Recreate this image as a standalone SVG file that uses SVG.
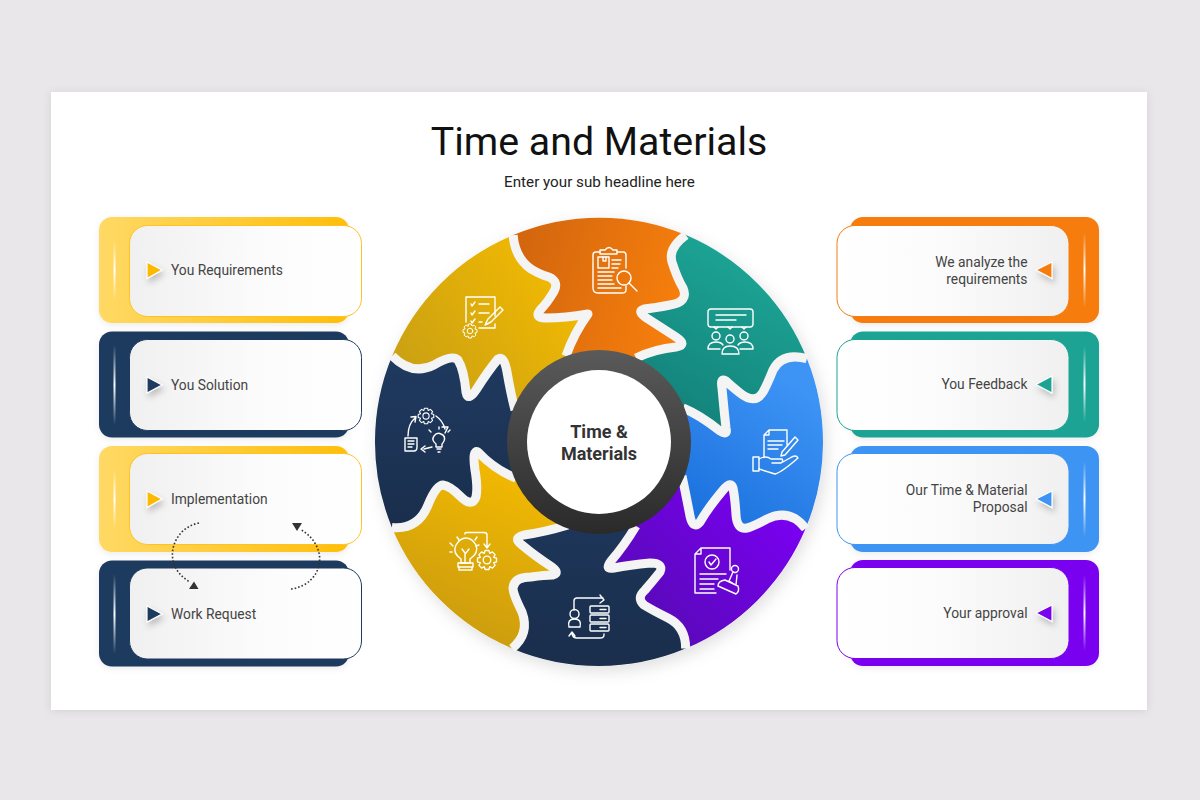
<svg xmlns="http://www.w3.org/2000/svg" width="1200" height="800" viewBox="0 0 1200 800">
<style>
.t{font-family:Roboto,"Liberation Sans",sans-serif;fill:#444;font-size:13.8px}
.r{text-anchor:end}
.sep{fill:none;stroke:#F4F4F4;stroke-width:9;stroke-linejoin:round}
.ic{fill:none;stroke:#fff;stroke-width:1.4;stroke-linecap:round;stroke-linejoin:round}
.ic *{vector-effect:non-scaling-stroke}
.front{stroke-width:1}
.tri{stroke:#fff;stroke-width:1.2;filter:url(#ts)}
.dot{fill:none;stroke:#333;stroke-width:1.6;stroke-dasharray:1.6 2}
</style>
<defs>
<filter id="cs" x="-5%" y="-5%" width="110%" height="110%"><feDropShadow dx="0" dy="1" stdDeviation="4" flood-color="#000" flood-opacity=".1"/></filter>
<filter id="ws" x="-10%" y="-10%" width="120%" height="120%"><feDropShadow dx="3" dy="5" stdDeviation="8" flood-color="#000" flood-opacity=".13"/></filter>
<filter id="bs" x="-10%" y="-15%" width="120%" height="130%"><feDropShadow dx="0" dy="2" stdDeviation="3" flood-color="#000" flood-opacity=".08"/></filter>
<filter id="ts" x="-80%" y="-80%" width="260%" height="260%"><feDropShadow dx="2" dy="4" stdDeviation="3" flood-color="#000" flood-opacity=".22"/></filter>
<filter id="hb" x="-300%" y="-10%" width="700%" height="120%"><feGaussianBlur stdDeviation="0.7"/></filter>
<linearGradient id="gO" x1="0" y1="0" x2="1" y2="0.35"><stop offset="0" stop-color="#D0640E"/><stop offset="1" stop-color="#F77F0C"/></linearGradient>
<linearGradient id="gT" x1="0.2" y1="1" x2="0.7" y2="0.1"><stop offset="0" stop-color="#117A75"/><stop offset="1" stop-color="#1CA494"/></linearGradient>
<linearGradient id="gB" x1="0.1" y1="0.9" x2="0.8" y2="0.1"><stop offset="0" stop-color="#1469D8"/><stop offset="1" stop-color="#3D94F5"/></linearGradient>
<linearGradient id="gP" x1="0" y1="1" x2="0.8" y2="0.2"><stop offset="0" stop-color="#4F0CA8"/><stop offset="1" stop-color="#7A00F2"/></linearGradient>
<linearGradient id="gN" x1="0" y1="0" x2="0" y2="1"><stop offset="0" stop-color="#1F3A60"/><stop offset="1" stop-color="#1A2E4C"/></linearGradient>
<linearGradient id="gY" x1="0" y1="1" x2="1" y2="0.25"><stop offset="0" stop-color="#C09A18"/><stop offset="1" stop-color="#F6BC00"/></linearGradient>
<linearGradient id="gY2" x1="0.3" y1="1" x2="0.7" y2="0.1"><stop offset="0" stop-color="#C89A10"/><stop offset="1" stop-color="#F6BC00"/></linearGradient>
<linearGradient id="gR" x1="0" y1="0" x2="0" y2="1"><stop offset="0" stop-color="#5A5A5A"/><stop offset="1" stop-color="#2A2A2A"/></linearGradient>
<linearGradient id="bY" x1="0" y1="0" x2="1" y2="0"><stop offset="0" stop-color="#FFD965"/><stop offset="1" stop-color="#FFBE0A"/></linearGradient>
<linearGradient id="fL" x1="0" y1="0" x2="1" y2="0"><stop offset="0" stop-color="#F0F0F0"/><stop offset=".6" stop-color="#FCFCFC"/><stop offset="1" stop-color="#FFF"/></linearGradient>
<linearGradient id="fR" x1="0" y1="0" x2="1" y2="0"><stop offset="0" stop-color="#FFF"/><stop offset=".4" stop-color="#FCFCFC"/><stop offset="1" stop-color="#F0F0F0"/></linearGradient>
<linearGradient id="hl" x1="0" y1="0" x2="0" y2="1"><stop offset="0" stop-color="#fff" stop-opacity="0"/><stop offset=".5" stop-color="#fff"/><stop offset="1" stop-color="#fff" stop-opacity="0"/></linearGradient>
<g id="gear"><polygon points="-2,-10 2,-10 2.9,-7 5.66,-8.49 8.49,-5.66 7,-2.9 10,-2 10,2 7,2.9 8.49,5.66 5.66,8.49 2.9,7 2,10 -2,10 -2.9,7 -5.66,8.49 -8.49,5.66 -7,2.9 -10,2 -10,-2 -7,-2.9 -8.49,-5.66 -5.66,-8.49 -2.9,-7"/><circle r="4"/></g>
</defs>
<rect width="1200" height="800" fill="#E9E7E9"/>
<rect x="51" y="92" width="1096" height="618" fill="#fff" filter="url(#cs)"/>
<text x="599" y="155" text-anchor="middle" style="font-family:Roboto,'Liberation Sans',sans-serif;font-size:39.3px;fill:#111">Time and Materials</text>
<text x="599.500" y="187" text-anchor="middle" style="font-family:Roboto,'Liberation Sans',sans-serif;font-size:15.2px;fill:#222">Enter your sub headline here</text>

<g id="card-left-1">
<rect x="99" y="217" width="250" height="106" rx="13" fill="url(#bY)" filter="url(#bs)"/>
<rect x="113.500" y="240" width="2" height="60" fill="url(#hl)" filter="url(#hb)"/>
<rect x="129.500" y="225.500" width="232" height="91" rx="18" fill="url(#fL)" stroke="#FFC21F" class="front"/>
<polygon points="147,262 162,270 147,278.500" fill="#FDB900" class="tri"/>
<text x="171" y="275" class="t">You Requirements</text>
</g>
<g id="card-left-2">
<rect x="99" y="331.500" width="250" height="106" rx="13" fill="#1F3A5F" filter="url(#bs)"/>
<rect x="113.500" y="345" width="2" height="80" fill="url(#hl)" filter="url(#hb)"/>
<rect x="129.500" y="339.500" width="232" height="91" rx="18" fill="url(#fL)" stroke="#1F3A5F" class="front"/>
<polygon points="147,377 162,385 147,393" fill="#1F3A5F" class="tri"/>
<text x="171" y="389.500" class="t">You Solution</text>
</g>
<g id="card-left-3">
<rect x="99" y="446" width="250" height="106" rx="13" fill="url(#bY)" filter="url(#bs)"/>
<rect x="113.500" y="469" width="2" height="60" fill="url(#hl)" filter="url(#hb)"/>
<rect x="129.500" y="453.500" width="232" height="91" rx="18" fill="url(#fL)" stroke="#FFC21F" class="front"/>
<polygon points="147,491 162,499 147,507.500" fill="#FDB900" class="tri"/>
<text x="171" y="504" class="t">Implementation</text>
</g>
<g id="card-left-4">
<rect x="99" y="560.500" width="250" height="106" rx="13" fill="#1F3A5F" filter="url(#bs)"/>
<rect x="113.500" y="574" width="2" height="80" fill="url(#hl)" filter="url(#hb)"/>
<rect x="129.500" y="568" width="232" height="91" rx="18" fill="url(#fL)" stroke="#1F3A5F" class="front"/>
<polygon points="147,606 162,614 147,622" fill="#1F3A5F" class="tri"/>
<text x="171" y="618.500" class="t">Work Request</text>
</g>

<g id="card-right-1">
<rect x="850" y="217" width="249" height="106" rx="13" fill="#F57C10" filter="url(#bs)"/>
<rect x="1083.500" y="232" width="2" height="76" fill="url(#hl)" filter="url(#hb)"/>
<rect x="837" y="225.500" width="232" height="91" rx="18" fill="url(#fR)" stroke="#F57C10" class="front"/>
<polygon points="1052,262 1036,270 1052,278.500" fill="#F57C10" class="tri"/>
<text x="1027.500" y="267" class="t r">We analyze the</text>
<text x="1027.500" y="284" class="t r">requirements</text>
</g>
<g id="card-right-2">
<rect x="850" y="331.500" width="249" height="106" rx="13" fill="#1BA394" filter="url(#bs)"/>
<rect x="1083.500" y="346" width="2" height="76" fill="url(#hl)" filter="url(#hb)"/>
<rect x="837" y="339.500" width="232" height="91" rx="18" fill="url(#fR)" stroke="#1BA394" class="front"/>
<polygon points="1052,376 1036,384.500 1052,393" fill="#1BA394" class="tri"/>
<text x="1027.500" y="389" class="t r">You Feedback</text>
</g>
<g id="card-right-3">
<rect x="850" y="446" width="249" height="106" rx="13" fill="#3E94F2" filter="url(#bs)"/>
<rect x="1083.500" y="461" width="2" height="76" fill="url(#hl)" filter="url(#hb)"/>
<rect x="837" y="453.500" width="232" height="91" rx="18" fill="url(#fR)" stroke="#3E94F2" class="front"/>
<polygon points="1052,491 1036,499 1052,507.500" fill="#3E94F2" class="tri"/>
<text x="1027.500" y="495" class="t r">Our Time &amp; Material</text>
<text x="1027.500" y="512" class="t r">Proposal</text>
</g>
<g id="card-right-4">
<rect x="850" y="560" width="249" height="106" rx="13" fill="#7A00F0" filter="url(#bs)"/>
<rect x="1083.500" y="575" width="2" height="76" fill="url(#hl)" filter="url(#hb)"/>
<rect x="837" y="567.500" width="232" height="91" rx="18" fill="url(#fR)" stroke="#7A00F0" class="front"/>
<polygon points="1052,605 1036,613 1052,621.500" fill="#7A00F0" class="tri"/>
<text x="1027.500" y="618" class="t r">Your approval</text>
</g>

<g id="connectors">
<path class="dot" d="M199 523C172 528 160 565 190 582"/>
<polygon points="189,589 198.500,589 194,581.500" fill="#333"/>
<path class="dot" d="M291 589C322 585 332 548 300 529"/>
<polygon points="292,523 302,523 297,531" fill="#333"/>
</g>

<circle cx="599" cy="442" r="224" fill="#fff" filter="url(#ws)"/>

<g id="seg-orange">
<path fill="url(#gO)" d="M513.100 235.100A224 224 0 0 1 685.900 235.100Q668 248 672 262Q677 278 683 288Q689 302 670 305Q655 308 644 309Q637 311 645 317Q662 328 676 337Q688 345 676 347Q655 349 636 358L599 442L566 356Q574 333 588 314Q565 318 546 318Q533 318 541 309Q547 303 553 293Q560 282 549 277Q541 275 531 269Q515 258 513.100 235.100Z"/>
<g class="ic"><path d="M600 252H596Q593 252 593 255V288Q593 293 598 293H622Q626 293 626 290V286M617 252H623Q626 252 626 255V268"/><path d="M600 254V250H605Q609 245 613 250H617V254Z"/><rect x="598" y="257" width="11" height="11"/><path d="M603 257V261H606V257M612 260H621M612 264H620M612 268H618M598 272H614M598 276H612M598 280H612M598 284H614M598 288H621"/><circle cx="624" cy="278" r="7"/><path d="M629 283L637 291"/></g>
</g>
<g id="seg-teal">
<path fill="url(#gT)" d="M685.900 235.100A224 224 0 0 1 806.900 358.600Q782 352 773 370Q767 385 763 392Q755 405 740 393Q730 385 726 381Q720 377 722 388Q724 410 726 428Q728 436 720 431Q700 415 683 408L599 442L636 358Q655 349 676 347Q688 345 676 337Q662 328 645 317Q637 311 644 309Q655 308 670 305Q689 302 683 288Q677 278 672 262Q668 248 685.900 235.100Z"/>
<g class="ic"><rect x="708" y="309" width="45" height="18" rx="3"/><path d="M716 315H746M716 320H736M714 327L716 329L718 327M728 327L730 329L732 327M742 327L744 329L746 327"/><circle cx="716" cy="336" r="4"/><circle cx="730" cy="339" r="4"/><circle cx="744" cy="336" r="4"/><path d="M708 349Q708 342 716 342Q721 342 723 345M738 345Q740 342 745 342Q753 342 753 349H740M708 349H720M722 354Q722 346 730 346Q739 346 739 354Z"/></g>
</g>
<g id="seg-blue">
<path fill="url(#gB)" d="M806.900 358.600A224 224 0 0 1 805.600 528.600Q790 508 767 519Q752 527 747 528Q737 530 736 515Q735 498 733 488Q731 481 724 489Q708 508 700 522Q693 530 690 516Q686 495 682 476L599 442L683 408Q700 415 720 431Q728 436 726 428Q724 410 722 388Q720 377 726 381Q730 385 740 393Q755 405 763 392Q767 385 773 370Q782 352 806.900 358.600Z"/>
<g class="ic"><path d="M764 457V435L769 430H787V445M769 430V435H764"/><path d="M768 441H784M768 445H782M768 449H778"/><path d="M782 452L795 437L798 440L785 455L781 456Z"/><rect x="753" y="457" width="6" height="14"/><path d="M759 459Q766 455 771 459H782Q784 462 780 463H772M759 469L775 474Q782 472 798 458Q796 454 790 458L781 463"/></g>
</g>
<g id="seg-purple">
<path fill="url(#gP)" d="M805.600 528.600A224 224 0 0 1 685.600 648.600Q686 627 668 618Q652 610 644 605Q636 598 645 590Q652 582 660 572Q664 563 650 563Q630 565 614 568Q604 570 611 561Q624 546 636 526L599 442L682 476Q686 495 690 516Q693 530 700 522Q708 508 724 489Q731 481 733 488Q735 498 736 515Q737 530 747 528Q752 527 767 519Q790 508 805.600 528.600Z"/>
<g class="ic"><path d="M716 593H695V554L701 548H730V570M701 548V554H695"/><circle cx="712" cy="562" r="7"/><path d="M709 562L711 565L716 559M700 574H726M700 579H718M700 584H714M700 589H714"/><circle cx="735" cy="569" r="3.500"/><path d="M733 572L729 581L736 585L737 575M718 586Q718 581 725 580L738 586Q740 591 736 594Z"/></g>
</g>
<g id="seg-navy-bottom">
<path fill="url(#gN)" d="M685.600 648.600A224 224 0 0 1 512 648.400Q530 634 522 612Q513 594 513 588Q514 577 531 577Q545 575 553 575Q560 573 552 567Q535 556 522 545Q512 538 524 535Q545 532 568 525L599 442L636 526Q624 546 611 561Q604 570 614 568Q630 565 650 563Q664 563 660 572Q652 582 645 590Q636 598 644 605Q652 610 668 618Q686 627 685.600 648.600Z"/>
<g class="ic"><path d="M574 610V601Q574 598 577 598H603M600 595L604 600L600 603"/><rect x="590" y="606" width="19" height="7" rx="1"/><rect x="590" y="615" width="19" height="7" rx="1"/><rect x="590" y="624" width="19" height="7" rx="1"/><path d="M600 609.500H606M600 618.500H606M600 627.500H606"/><circle cx="574.500" cy="614" r="4.500"/><path d="M569 627Q567 619 574.500 619Q582 619 580 627Z"/><path d="M604 634V635Q604 638 600 638H577Q573 638 572 634M569 636L572 632L575 636"/></g>
</g>
<g id="seg-yellow-lower">
<path fill="url(#gY2)" d="M512 648.400A224 224 0 0 1 391.900 527.400Q418 530 428 505Q436 485 443 485Q450 486 460 496Q472 508 476 497Q478 488 475 470Q472 449 478 452Q495 470 516 478L599 442L568 525Q545 532 524 535Q512 538 522 545Q535 556 552 567Q560 573 553 575Q545 575 531 577Q514 577 513 588Q513 594 522 612Q530 634 512 648.400Z"/>
<g class="ic"><path d="M461 563V559Q452 553 456 545Q460 538 466 538Q472 538 476 545Q479 553 470 559V563Z"/><path d="M462 549L465 553V563M469 549L466 553"/><path d="M458 563H473V567H458ZM459 567H472V570H459ZM462 570H469"/><path d="M450 543L453 546M457 537L459 540M477 537L475 540M452 552H450M479 545L476 546"/><path d="M465 534V533Q465 532.500 467 532.500H484Q487 532.500 487 535V546M484 544L487 548L490 544"/><use href="#gear" transform="translate(487 560) scale(.95)"/></g>
</g>
<g id="seg-navy-left">
<path fill="url(#gN)" d="M391.900 527.400A224 224 0 0 1 392.200 355.800Q412 376 434 365Q452 354 458 360Q464 370 466 392Q468 402 476 390Q488 371 498 359Q504 355 507 372Q511 395 515 410L599 442L516 478Q495 470 478 452Q472 449 475 470Q478 488 476 497Q472 508 460 496Q450 486 443 485Q436 485 428 505Q418 530 391.900 527.400Z"/>
<g class="ic"><use href="#gear" transform="translate(426 416) scale(.78)"/><path d="M408 436Q408 424 415 418M411 417L416 416.500L415 422"/><path d="M436 416Q443 421 445 429M442 427L448 427L445 433"/><path d="M405 438H417V447Q417 451 414 451H405ZM408 441H414M408 444H414M408 447H412"/><path d="M432 447L424 449M425 446L421 449L425 452"/><path d="M436 447V444Q431 440 434 436Q437 432 441 434Q446 436 444 441Q443 443 442 444V447ZM437 449H441M438 452H440M431 432L429 430M448 432L450 430M439 429V427"/></g>
</g>
<g id="seg-yellow-upper">
<path fill="url(#gY)" d="M392.200 355.800A224 224 0 0 1 513.100 235.100Q515 258 531 269Q541 275 549 277Q560 282 553 293Q547 303 541 309Q533 318 546 318Q565 318 588 314Q574 333 566 356L599 442L515 410Q511 395 507 372Q504 355 498 359Q488 371 476 390Q468 402 466 392Q464 370 458 360Q452 354 434 365Q412 376 392.200 355.800Z"/>
<g class="ic"><path d="M466 322V297H495V316M495 324V328H479"/><path d="M471 304L472 306L475 302M479 304H489M471 313L472 315L475 311M479 313H489M471 321L472 323L475 319M479 322H482"/><path d="M485 325L488 319L500 307L503 310L491 322Z"/><use href="#gear" transform="translate(470 331) scale(.7)"/></g>
</g>

<g id="separators">
<path class="sep" d="M513.100 235.100Q515 258 531 269Q541 275 549 277Q560 282 553 293Q547 303 541 309Q533 318 546 318Q565 318 588 314Q574 333 566 356"/>
<path class="sep" d="M685.900 235.100Q668 248 672 262Q677 278 683 288Q689 302 670 305Q655 308 644 309Q637 311 645 317Q662 328 676 337Q688 345 676 347Q655 349 636 358"/>
<path class="sep" d="M806.900 358.600Q782 352 773 370Q767 385 763 392Q755 405 740 393Q730 385 726 381Q720 377 722 388Q724 410 726 428Q728 436 720 431Q700 415 683 408"/>
<path class="sep" d="M805.600 528.600Q790 508 767 519Q752 527 747 528Q737 530 736 515Q735 498 733 488Q731 481 724 489Q708 508 700 522Q693 530 690 516Q686 495 682 476"/>
<path class="sep" d="M685.600 648.600Q686 627 668 618Q652 610 644 605Q636 598 645 590Q652 582 660 572Q664 563 650 563Q630 565 614 568Q604 570 611 561Q624 546 636 526"/>
<path class="sep" d="M512 648.400Q530 634 522 612Q513 594 513 588Q514 577 531 577Q545 575 553 575Q560 573 552 567Q535 556 522 545Q512 538 524 535Q545 532 568 525"/>
<path class="sep" d="M391.900 527.400Q418 530 428 505Q436 485 443 485Q450 486 460 496Q472 508 476 497Q478 488 475 470Q472 449 478 452Q495 470 516 478"/>
<path class="sep" d="M392.200 355.800Q412 376 434 365Q452 354 458 360Q464 370 466 392Q468 402 476 390Q488 371 498 359Q504 355 507 372Q511 395 515 410"/>
</g>

<g id="center">
<circle cx="599" cy="442" r="92" fill="url(#gR)"/>
<circle cx="599" cy="442" r="72" fill="#fff"/>
<text x="599" y="438" text-anchor="middle" style="font-family:Roboto,'Liberation Sans',sans-serif;font-size:18px;font-weight:700;fill:#333">Time &amp;</text>
<text x="599" y="460" text-anchor="middle" style="font-family:Roboto,'Liberation Sans',sans-serif;font-size:18px;font-weight:700;fill:#333">Materials</text>
</g>
</svg>
